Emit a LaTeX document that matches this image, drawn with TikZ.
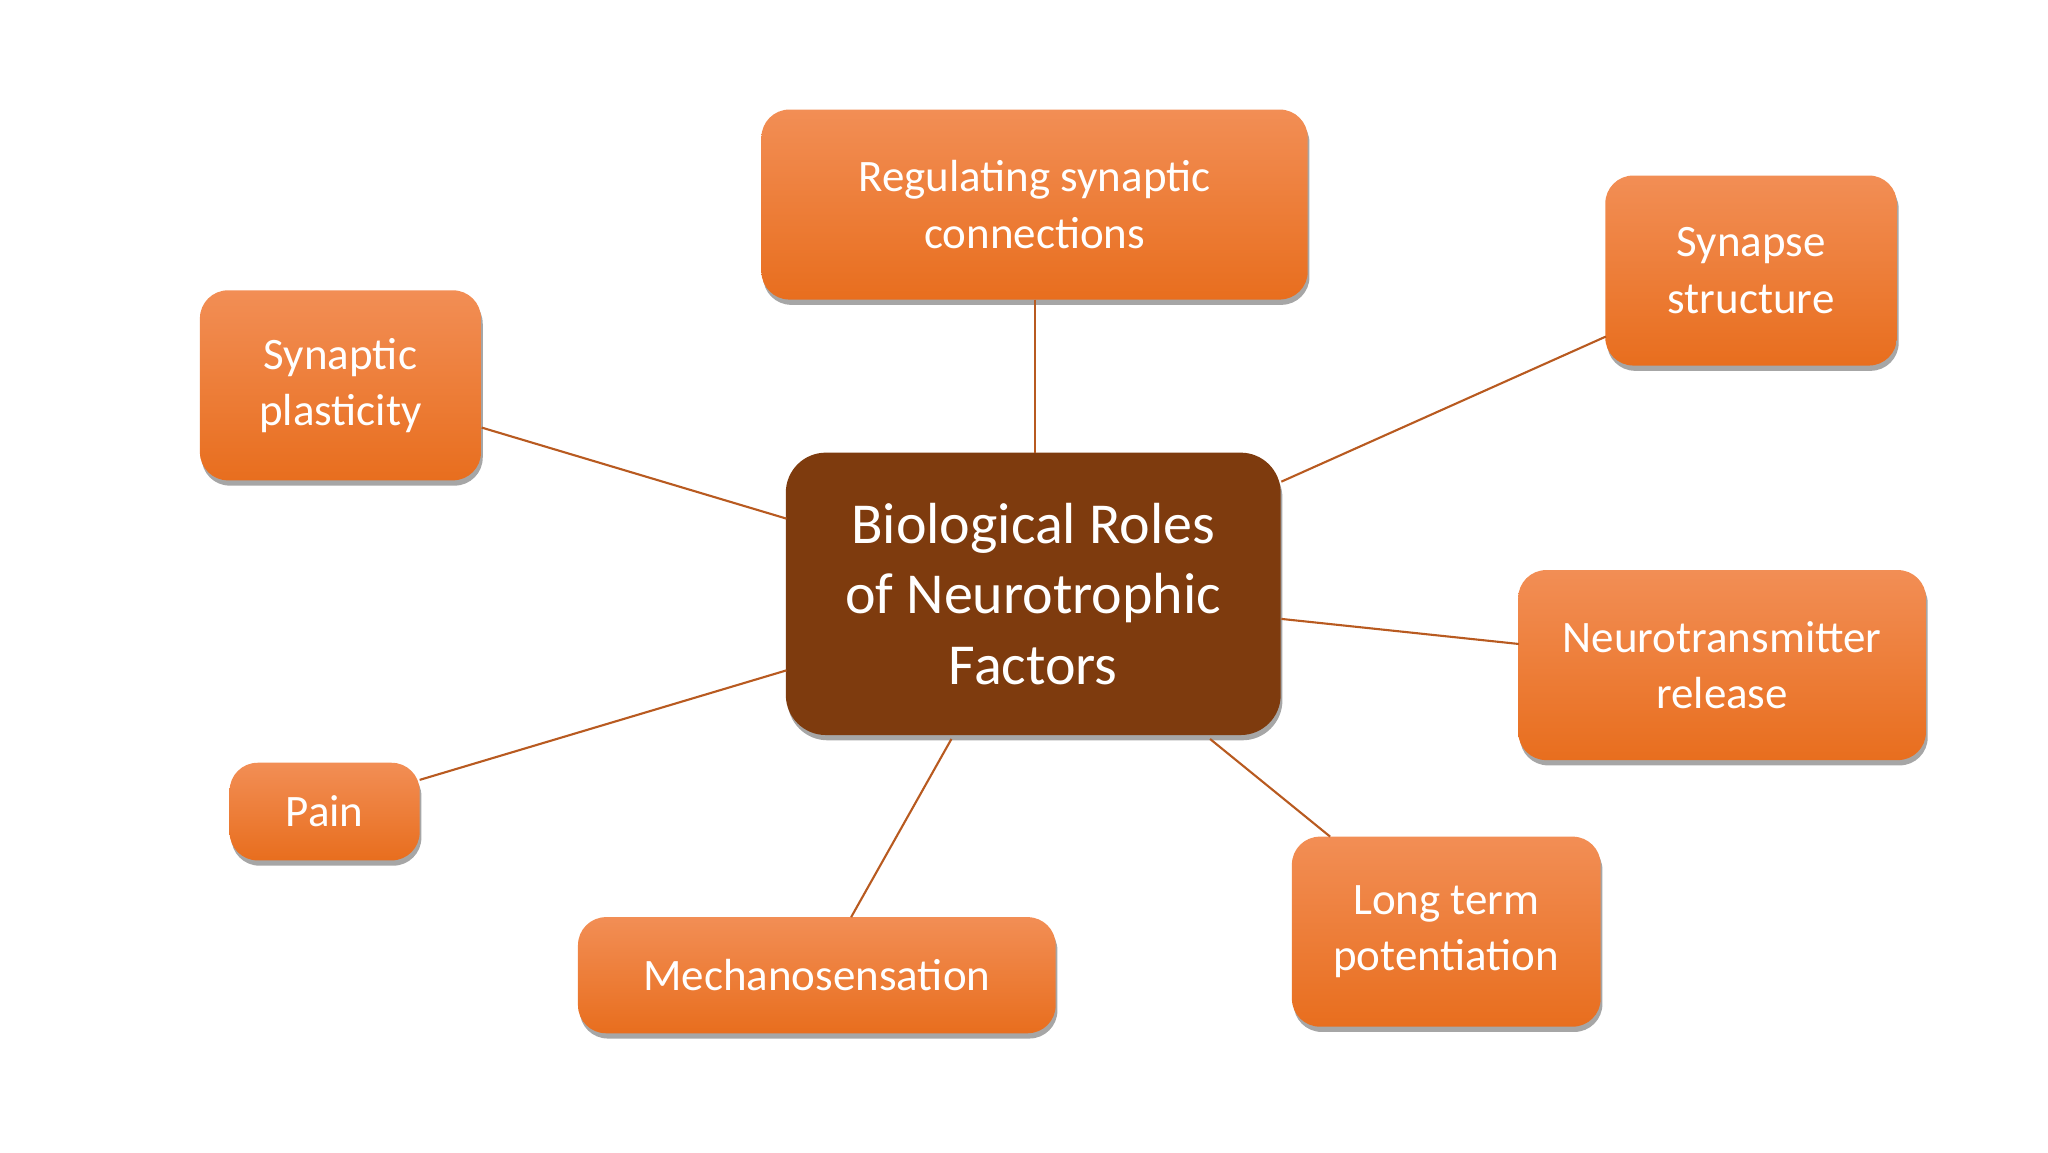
\documentclass[tikz,border=0pt]{standalone}
\usepackage{fontspec}
\setmainfont{Carlito}
\usetikzlibrary{shadows}
\definecolor{otop}{HTML}{F28E55}
\definecolor{obot}{HTML}{E86E1E}
\definecolor{ctr}{HTML}{7E3B0E}
\definecolor{lnk}{HTML}{B85A20}
\begin{document}
\begin{tikzpicture}[x=0.013196cm,y=-0.013196cm,
 box/.style={draw=none,rounded corners=0.28cm,top color=otop,bottom color=obot,text=white,
   font=\fontsize{12.8}{16}\selectfont,align=center,inner sep=0pt,
   drop shadow={shadow xshift=0.5pt,shadow yshift=-1.5pt,fill=black,opacity=0.35}},
 link/.style={draw=lnk,line width=0.6pt}]
\useasboundingbox (0,0) rectangle (1552,873);
\node[box,minimum width=414*0.013196cm,minimum height=144*0.013196cm] (reg) at (784,155) {Regulating synaptic\\connections};
\node[box,minimum width=221*0.013196cm,minimum height=144*0.013196cm] (syn) at (1327,205) {Synapse\\structure};
\node[box,minimum width=213*0.013196cm,minimum height=144*0.013196cm] (pla) at (258,292) {Synaptic\\plasticity};
\node[box,minimum width=309*0.013196cm,minimum height=144*0.013196cm] (neu) at (1305,504) {Neurotransmitter\\release};
\node[box,minimum width=144*0.013196cm,minimum height=74*0.013196cm] (pain) at (246,615) {Pain};
\node[box,minimum width=362*0.013196cm,minimum height=88*0.013196cm] (mec) at (619,739) {Mechanosensation};
\node[box,minimum width=234*0.013196cm,minimum height=144*0.013196cm] (ltp) at (1096,706) {Long term\\potentiation};
\node[box,top color=ctr,bottom color=ctr,rounded corners=0.4cm,minimum width=375*0.013196cm,minimum height=214*0.013196cm,
  font=\fontsize{16.5}{20}\selectfont] (c) at (783,450) {Biological Roles\\of Neurotrophic\\Factors};
\coordinate (a1) at (784,227); \coordinate (b1) at (784,343);
\coordinate (a2) at (1217,255); \coordinate (b2) at (971,365);
\coordinate (a3) at (365,324); \coordinate (b3) at (596,393);
\coordinate (a4) at (1151,488); \coordinate (b4) at (971,469);
\coordinate (a5) at (318,591); \coordinate (b5) at (596,508);
\coordinate (a6) at (645,695); \coordinate (b6) at (721,560);
\coordinate (a7) at (1008,634); \coordinate (b7) at (917,560);
\draw[link] (a1) -- (b1);
\draw[link] (a2) -- (b2);
\draw[link] (a3) -- (b3);
\draw[link] (a4) -- (b4);
\draw[link] (a5) -- (b5);
\draw[link] (a6) -- (b6);
\draw[link] (a7) -- (b7);
\end{tikzpicture}
\end{document}
